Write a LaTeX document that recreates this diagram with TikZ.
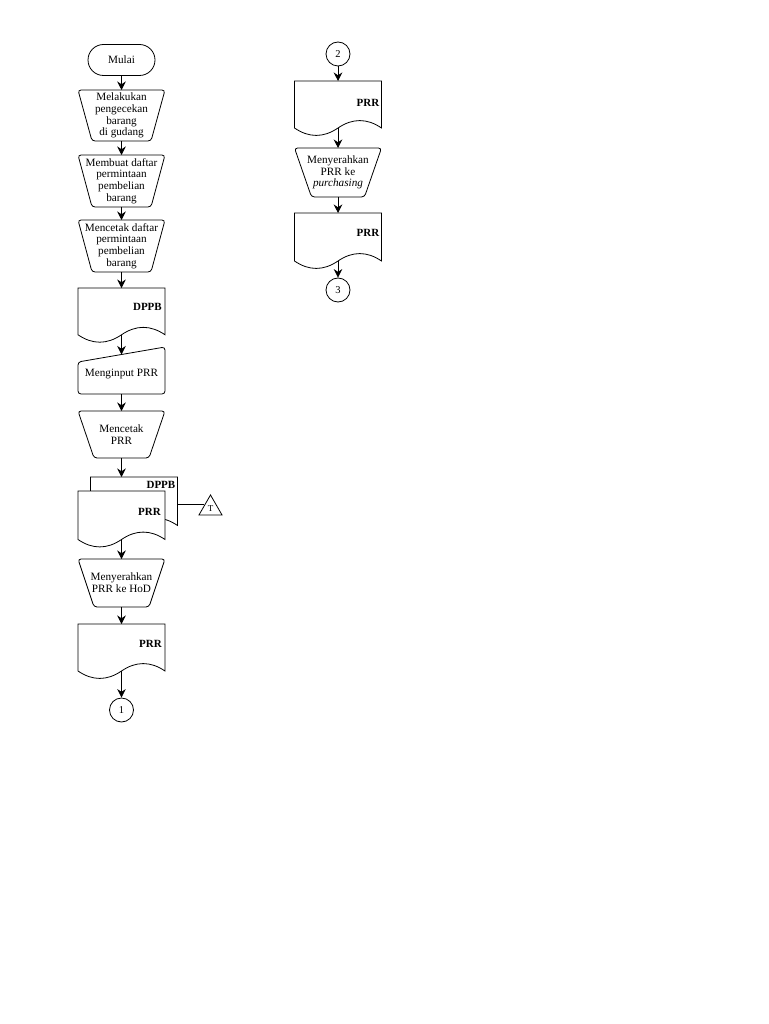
\documentclass[tikz,border=0pt]{standalone}
\usepackage{fontspec}
\setmainfont{Liberation Serif}
\usetikzlibrary{arrows.meta,calc,shapes.misc,shapes.geometric}
\newcommand\mytrap[2]{\draw[outl,rounded corners=3pt] (#1.north west) -- (#1.north east) -- ([xshift=-#2pt]#1.south east) -- ([xshift=#2pt]#1.south west) -- cycle;}
\newcommand\mydoc[1]{\draw[outl,fill=white] (#1.south east) -- (#1.north east) -- (#1.north west) -- (#1.south west) .. controls ($(#1.south west)+(14.5,9.9)$) and ($(#1.south west)+(29,9.9)$) .. (#1.south) .. controls ($(#1.south west)+(58,-9.9)$) and ($(#1.south west)+(72.5,-9.9)$) .. (#1.south east) -- cycle;}
\tikzset{
  outl/.style={draw=black,line width=0.8pt},
  txt/.style={font=\fontsize{11.2}{11.8}\selectfont,align=center,inner sep=0pt,outer sep=0pt},
  box/.style={txt,minimum width=87pt},
  doclbl/.style={font=\fontsize{11}{12}\selectfont\bfseries,inner sep=0pt,anchor=east},
  conn/.style={circle,outl,minimum size=24pt,inner sep=0pt,font=\fontsize{10.5}{11}\selectfont},
  arr/.style={line width=0.8pt,-{Stealth[length=8.5pt,width=8.5pt]}},
}
\begin{document}
\begin{tikzpicture}[x=1pt,y=-1pt]
\useasboundingbox (0,0) rectangle (768,1024);
% left column
\node[txt,outl,rounded rectangle,minimum width=67pt,minimum height=31pt] (start) at (121.5,60) {Mulai};
\node[box,minimum height=51pt] (t1) at (121.5,115.5) {Melakukan\\pengecekan\\barang\\di gudang};
\mytrap{t1}{14}
\node[box,minimum height=52pt] (t2) at (121.5,181) {Membuat daftar\\permintaan\\pembelian\\barang};
\mytrap{t2}{14}
\node[box,minimum height=52pt] (t3) at (121.5,246) {Mencetak daftar\\permintaan\\pembelian\\barang};
\mytrap{t3}{14}
\node[box,minimum height=46.75pt] (d1) at (121.5,311.4) {};
\mydoc{d1}
\node[doclbl] (d1l) at ($(d1.north east)+(-3,19)$) {DPPB};
\node[box,minimum height=39.5pt] (mi) at (121.5,374.25) {Menginput PRR};
\draw[outl,rounded corners=3pt] ($(mi.north west)+(0,7.5)$) -- ($(mi.north east)+(0,-7.5)$) -- (mi.south east) -- (mi.south west) -- cycle;
\node[box,minimum height=47pt] (t4) at (121.5,434.5) {Mencetak\\PRR};
\mytrap{t4}{16}
\node[box,minimum height=48.5pt] (bd) at (134,501.25) {};
\mydoc{bd}
\node[doclbl] (bdl) at ($(bd.north east)+(-2,8)$) {DPPB};
\node[box,minimum height=48.5pt] (fd) at (121.5,515.25) {};
\mydoc{fd}
\node[doclbl] (fdl) at ($(fd.north east)+(-4,21)$) {PRR};
\node[regular polygon,regular polygon sides=3,outl,minimum size=26.6pt,inner sep=0pt,font=\fontsize{9}{10}\selectfont] (tri) at (210.5,508.3) {T};
\draw[line width=0.8pt] (bd.east |- tri.side 1) -- (tri.side 1);
\node[box,minimum height=48pt] (t5) at (121.5,583) {Menyerahkan\\PRR ke HoD};
\mytrap{t5}{16}
\node[box,minimum height=47pt] (d2) at (121.5,647.5) {};
\mydoc{d2}
\node[doclbl] (d2l) at ($(d2.north east)+(-3,20)$) {PRR};
\node[conn] (c1) at (121.5,710) {1};
% right column
\node[conn] (c2) at (338,54) {2};
\node[box,minimum height=47pt] (d3) at (338,104.5) {};
\mydoc{d3}
\node[doclbl] (d3l) at ($(d3.north east)+(-2,22)$) {PRR};
\node[box,minimum height=49pt] (t6) at (338,172.5) {Menyerahkan\\PRR ke\\\textit{purchasing}};
\mytrap{t6}{17}
\node[box,minimum height=48pt] (d4) at (338,237) {};
\mydoc{d4}
\node[doclbl] (d4l) at ($(d4.north east)+(-2,20)$) {PRR};
\node[conn] (c3) at (338,290) {3};
% connectors
\draw[arr] (start) -- (t1);
\draw[arr] (t1) -- (t2);
\draw[arr] (t2) -- (t3);
\draw[arr] (t3) -- (d1);
\draw[arr] (d1.south) -- (mi.north);
\draw[arr] (mi) -- (t4);
\draw[arr] (t4.south) -- (t4.south |- bd.north);
\draw[arr] (fd.south) -- (t5.north);
\draw[arr] (t5) -- (d2);
\draw[arr] (d2.south) -- (c1);
\draw[arr] (c2) -- (d3);
\draw[arr] (d3.south) -- (t6.north);
\draw[arr] (t6) -- (d4);
\draw[arr] (d4.south) -- (c3);
\end{tikzpicture}
\end{document}
